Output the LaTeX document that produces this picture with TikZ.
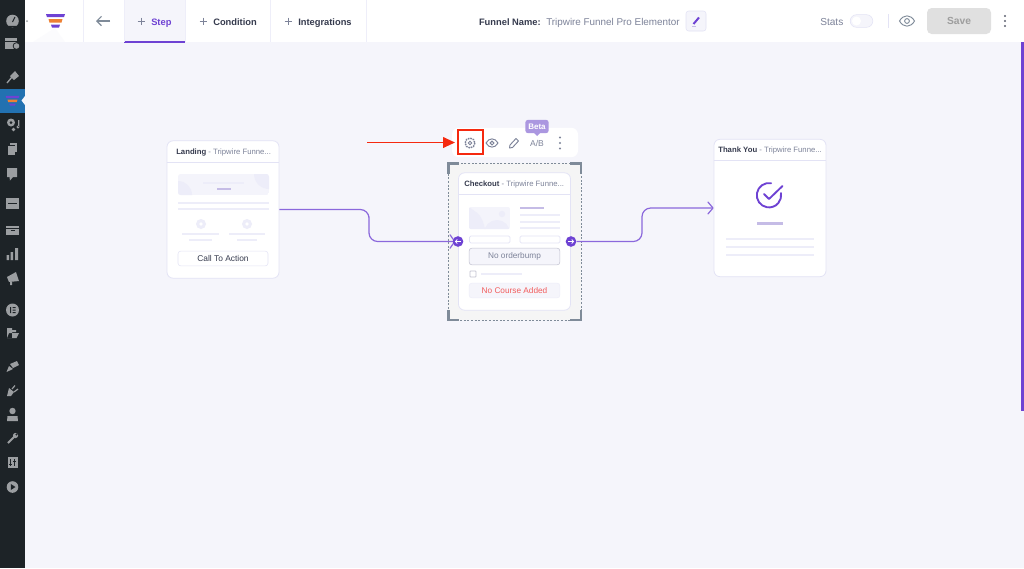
\documentclass[tikz,border=0pt]{standalone}
\usepackage{fontspec}
\setmainfont{Liberation Sans}
\usetikzlibrary{arrows.meta}
\definecolor{canvasbg}{HTML}{F5F5FB}
\definecolor{sidebg}{HTML}{1D2327}
\definecolor{sideicon}{HTML}{9B9EA1}
\definecolor{wpblue}{HTML}{2271B1}
\definecolor{funnelpurple}{HTML}{6E42D3}
\definecolor{funnelorange}{HTML}{EE8134}
\definecolor{softpurple}{HTML}{C5BCE6}
\definecolor{edgeline}{HTML}{E3E3F5}
\definecolor{paleline}{HTML}{EDEDF9}
\definecolor{inkdark}{HTML}{363B4E}
\definecolor{inkgrey}{HTML}{7D8399}
\definecolor{handlegrey}{HTML}{7F8B99}
\definecolor{markred}{HTML}{F5290F}
\definecolor{softred}{HTML}{F25C5C}
\tikzset{
  card/.style={rectangle, rounded corners=4.5pt, draw=edgeline, fill=white, line width=.6pt, minimum width=84pt, minimum height=103pt, inner sep=0pt},
  cardtitle/.style={anchor=base west, inner sep=0pt, font=\fontsize{5.8}{8}\selectfont, text=inkgrey},
  tabtext/.style={anchor=base west, inner sep=0pt, font=\bfseries\fontsize{7}{9}\selectfont, text=inkdark},
  barbutton/.style={rectangle, rounded corners=2pt, draw=edgeline, inner sep=0pt, minimum height=11pt},
  port/.style={circle, fill=funnelpurple, minimum size=8pt, inner sep=0pt},
  wire/.style={draw=funnelpurple!80, line width=.9pt, rounded corners=6.5pt},
  paleln/.style={paleline, line width=1.5pt},
  sideic/.style={fill=sideicon, draw=none},
  funnelmark/.pic={
    \fill[funnelpurple] (-9.5,-7) -- (9.5,-7) -- (8.5,-4) -- (-8.5,-4) -- cycle;
    \fill[funnelorange] (-7,-2) -- (7,-2) -- (6,1.5) -- (-6,1.5) -- cycle;
    \fill[funnelpurple] (-4.5,3.5) -- (4.5,3.5) -- (3.5,6.5) -- (-3.5,6.5) -- cycle;
  },
  eyemark/.pic={
    \draw[line width=.7pt, pic actions] (-6,0) .. controls (-3,-5.5) and (3,-5.5) .. (6,0) .. controls (3,5.5) and (-3,5.5) .. (-6,0) -- cycle;
    \draw[line width=.7pt, pic actions] (0,0) circle[radius=1.9];
  }
}
\begin{document}
\begin{tikzpicture}[x=.75pt, y=-.75pt]
        \useasboundingbox (0,0) rectangle (1024,568);
        \fill[canvasbg] (0,0) rectangle (1024,568);

        % top bar
        \fill[white] (25,0) rectangle (1024,42);
        \fill[canvasbg!40!white] (55,28) -- (33,42) -- (65,42) -- cycle;
        \fill[canvasbg] (124,0) rectangle (185,42);
        \fill[funnelpurple] (124,40.5) rectangle (185,42.5);
        \foreach \sepx in {83,124,185,270,366}
            \draw[edgeline!60, line width=.5pt] (\sepx,0) -- (\sepx,42);
        \pic at (55.5,21) {funnelmark};
        \fill[sideicon] (27,21) circle[radius=1];
        \draw[-{Straight Barb[length=3.5pt,width=7pt]}, handlegrey, line width=.8pt] (110,21) -- (96,21);

        \node[tabtext, text=funnelpurple] (steptab) at (151,25) {Step};
        \node[tabtext] (conditiontab) at (213,25) {Condition};
        \node[tabtext] (integrationstab) at (298,25) {Integrations};
        \foreach \plusx in {141,203,288}
            \draw[inkgrey, line width=.6pt] (\plusx-3.5,21) -- (\plusx+3.5,21) (\plusx,17.5) -- (\plusx,24.5);

        \node[tabtext, anchor=base east] (funnellabel) at (541,25) {Funnel Name:};
        \node[tabtext, font=\fontsize{7.4}{9}\selectfont, text=inkgrey] (funnelname) at (546,25) {Tripwire Funnel Pro Elementor};
        \node[barbutton, fill=canvasbg, minimum width=15pt, minimum height=15pt] (editbtn) at (696,21) {};
        \draw[funnelpurple, line width=1.5pt] (693.5,24) -- (699,17.5);
        \draw[softpurple, line width=.7pt] (692,26.5) -- (696,26.5);

        \node[tabtext, font=\fontsize{7.6}{9}\selectfont, text=inkgrey] (statslabel) at (820,25) {Stats};
        \node[rectangle, rounded corners=4.8pt, fill=canvasbg, draw=edgeline, minimum width=17pt, minimum height=9.5pt, inner sep=0pt] (statstoggle) at (861.5,21) {};
        \fill[white] (856.5,21) circle[radius=4.5];
        \draw[edgeline, line width=.5pt] (888,14) -- (888,28);
        \pic[draw=handlegrey, scale=1.25] at (907,21) {eyemark};
        \node[rectangle, rounded corners=3.5pt, fill=black!12, minimum width=48pt, minimum height=19.5pt, inner sep=0pt, font=\bfseries\fontsize{7.7}{9}\selectfont, text=black!38] (savebtn) at (959,21) {Save};
        \foreach \doty in {16,21,26}
            \fill[inkdark!80] (1005,\doty) circle[radius=1.1];

        \fill[funnelpurple] (1021,42) rectangle (1024,411);

        % side menu
        \fill[sidebg] (0,0) rectangle (25,568);
        \fill[wpblue] (0,89) rectangle (25,113);
        \fill[canvasbg] (25,96) -- (21.5,100.5) -- (25,105) -- cycle;
        \pic[scale=.72] at (12.5,101) {funnelmark};
        % gauge
        \fill[sideic] (12.5,21) circle[radius=6.3];
        \draw[sidebg, line width=.8pt] (12.5,22) -- (15,17) (8,26.5) -- (17,26.5);
        % calendar
        \fill[sideic] (5,37.5) rectangle (17,48.5);
        \fill[sidebg] (5,41) rectangle (17,42);
        \fill[sidebg] (16.5,46) circle[radius=3.8];
        \fill[sideic] (16.5,46) circle[radius=2.8];
        % pin
        \fill[sideic] (10,76) -- (15,71) -- (19,76) -- (14,80) -- cycle;
        \draw[sideicon, line width=1pt] (7,83) -- (12,77);
        % parts
        \fill[sideic] (11,122.5) circle[radius=4];
        \fill[sidebg] (11,122.5) circle[radius=1.5];
        \fill[sideic] (13.5,129.5) circle[radius=1.8] (18,127) circle[radius=1.6] (18.2,120) rectangle (19.4,127);
        % pages
        \fill[sideic] (10,143) rectangle (17,152);
        \fill[sidebg] (7.5,145) rectangle (15,155.5);
        \fill[sideic] (8,146) rectangle (14.5,155);
        % comment
        \fill[sideic] (7,168) rectangle (17,177) (9.5,177) -- (13,177) -- (10,180.5) -- cycle;
        % woo box
        \fill[sideic] (6,197.5) rectangle (19,208.5);
        \draw[sidebg, line width=.4pt] (8,203) -- (17,203);
        % archive
        \fill[sideic] (6,226) rectangle (19,234.5);
        \draw[sidebg, line width=.5pt] (6,228.5) -- (19,228.5) (10.5,230.5) -- (14.5,230.5);
        % bars
        \fill[sideic] (6.5,255) rectangle (9,260) (10.5,252) rectangle (13,260) (15,248) rectangle (18,260);
        % megaphone
        \fill[sideic] (7,277) -- (16,272) -- (19,281) -- (9,282) -- cycle (10,282) rectangle (12,285);
        % elementor
        \fill[sideic] (12.5,310) circle[radius=6.5];
        \fill[sidebg] (10,307) rectangle (11,313) (12.5,307) rectangle (15.5,308) (12.5,309.5) rectangle (15.5,310.5) (12.5,312) rectangle (15.5,313);
        % folder
        \fill[sideic] (7,328) rectangle (12,338) (12,330) rectangle (16,332) (9,333) -- (19,333) -- (16.5,338) -- (7,338) -- cycle;
        % brush
        \fill[sideic] (6.5,372) -- (9,366) -- (13,369) -- cycle (10,364) -- (17,361) -- (19,365) -- (13,368) -- cycle;
        % plug
        \fill[sideic] (9,388) -- (14,392) -- (11,396) -- (7,396) -- cycle;
        \draw[sideicon, line width=.9pt] (12,389) -- (15,385.5) (14,392) -- (18,389);
        % user
        \fill[sideic] (12.5,411) circle[radius=3.2];
        \fill[sideic] (7,421) -- (7.5,416) -- (17.5,416) -- (18,421) -- cycle;
        % wrench
        \draw[sideicon, line width=1.5pt] (8,443) -- (15,436);
        \fill[sideic] (15.5,435.5) circle[radius=2.6];
        \fill[sidebg] (16.5,434.5) circle[radius=1.2];
        % sliders
        \fill[sideic] (7.5,457) rectangle (18,468);
        \draw[sidebg, line width=.5pt] (10.5,459) -- (10.5,466) (14.5,459) -- (14.5,466) (9,464) -- (12,464) (13,461) -- (16,461);
        % play
        \fill[sideic] (12.5,487) circle[radius=5.8];
        \fill[sidebg] (10.8,484) -- (10.8,490) -- (15.5,487) -- cycle;

        % selection frame
        \fill[black!4] (448,163) rectangle (581,320);
        \draw[handlegrey, dash pattern=on 1.5pt off 1.2pt, line width=.4pt] (448,163) rectangle (581,320);
        \draw[handlegrey, line width=1.7pt]
            (448.5,174) -- (448.5,163.5) -- (459,163.5)
            (570,163.5) -- (581,163.5) -- (581,174)
            (448.5,310) -- (448.5,320) -- (459,320)
            (570,320) -- (581,320) -- (581,310);

        % cards
        \node[card] (landing) at (223,209.5) {};
        \node[card] (checkout) at (514.5,241.5) {};
        \node[card] (thanks) at (770,208) {};
        \draw[edgeline, line width=.5pt] (landing.west |- 0,162) -- (landing.east |- 0,162);
        \draw[edgeline, line width=.5pt] (checkout.west |- 0,194) -- (checkout.east |- 0,194);
        \draw[edgeline, line width=.5pt] (thanks.west |- 0,160) -- (thanks.east |- 0,160);

        \node[cardtitle] (landingtitle) at (176,154.5) {\textbf{\textcolor{inkdark}{Landing}} - Tripwire Funne...};
        \node[cardtitle] (checkouttitle) at (464,186.5) {\textbf{\textcolor{inkdark}{Checkout}} - Tripwire Funne...};
        \node[cardtitle] (thankstitle) at (718,152.5) {\textbf{\textcolor{inkdark}{Thank You}} - Tripwire Funne...};

        % landing preview
        \begin{scope}
            \clip[rounded corners=2pt] (178,174) rectangle (269,195);
            \fill[paleline!60] (178,174) rectangle (269,195);
            \fill[paleline] (178,195) circle[radius=14] (269,174) circle[radius=15];
        \end{scope}
        \draw[paleln] (203,183) -- (244,183);
        \draw[softpurple, line width=1.6pt] (217,189) -- (231,189);
        \draw[paleln] (178,203) -- (269,203) (178,209) -- (269,209);
        \foreach \dotx in {201,247}{
            \fill[paleline] (\dotx,224) circle[radius=5];
            \fill[white] (\dotx,224) circle[radius=1.8];
        }
        \draw[paleln] (182,234) -- (219,234) (229,234) -- (265,234) (189,239.5) -- (212,239.5) (237,239.5) -- (257,239.5);
        \node[barbutton, fill=white, minimum width=67.5pt, font=\fontsize{6.3}{8}\selectfont, text=inkdark] (actionbtn) at (223,258.5) {Call To Action};

        % checkout preview
        \begin{scope}
            \clip[rounded corners=1.5pt] (469,207) rectangle (510,229);
            \fill[paleline!60] (469,207) rectangle (510,229);
            \fill[paleline] (469,207) -- (476,212) .. controls (482,216) and (484,224) .. (485,229) -- (469,229) -- cycle;
            \fill[paleline] (497,233) circle[radius=13];
            \fill[paleline] (502,214) circle[radius=3.2];
        \end{scope}
        \draw[softpurple, line width=1.3pt] (520,208) -- (544,208);
        \draw[paleln] (520,215) -- (560,215) (520,221.5) -- (560,221.5) (520,227.5) -- (560,227.5);
        \draw[edgeline, rounded corners=1pt, line width=.6pt] (469.5,236) rectangle (510,243) (520,236) rectangle (560,243);
        \node[barbutton, draw=edgeline!85!black, fill=canvasbg, minimum width=68pt, minimum height=12.5pt, font=\fontsize{6.2}{8}\selectfont, text=inkgrey] (orderbtn) at (514.5,256.5) {No orderbump};
        \draw[edgeline!85!black, line width=.5pt, rounded corners=.5pt] (470,271) rectangle (476,277);
        \draw[paleln] (481,274) -- (522,274);
        \node[barbutton, draw=paleline, fill=canvasbg, minimum width=68pt, minimum height=11pt, font=\fontsize{6.2}{8}\selectfont, text=softred] (coursebtn) at (514.5,290.5) {No Course Added};

        % thank you preview
        \draw[funnelpurple, line width=1.4pt, line cap=round] (771.1,183.2) arc[start angle=-80, end angle=-370, radius=12.2];
        \draw[funnelpurple, line width=1.4pt, line cap=round, line join=round] (764,194) -- (769,199) -- (782.5,186);
        \draw[softpurple, line width=1.8pt] (757,223.5) -- (783,223.5);
        \draw[paleln] (726,239) -- (814,239) (726,247) -- (814,247) (726,255) -- (814,255);

        % wires and ports
        \coordinate (elbowA) at (369,225);
        \coordinate (elbowB) at (642,225);
        \coordinate (inportpos) at (458,241.5);
        \draw[wire, shorten >=2pt, -{Straight Barb[length=3.5pt,width=10pt,round]}] (landing.east) -| (elbowA) |- (inportpos);
        \node[port] (inport) at (inportpos) {};
        \node[port] (outport) at (571,241.5) {};
        \draw[wire, -{Straight Barb[length=3.8pt,width=9pt,round]}] (outport.east) -| (elbowB) |- (thanks.west);
        \draw[white, line width=.6pt, -{Straight Barb[length=1.3pt,width=3pt]}] (461,241.5) -- (455,241.5);
        \draw[white, line width=.6pt, -{Straight Barb[length=1.3pt,width=3pt]}] (568,241.5) -- (574,241.5);

        % tool strip
        \node[rectangle, rounded corners=5pt, fill=white, minimum width=94.5pt, minimum height=22pt, inner sep=0pt] (toolstrip) at (515,142.5) {};
        \node[circle, draw=inkgrey, line width=.7pt, inner sep=0pt, minimum size=2.7pt] (gearhub) at (470,143) {};
        \draw[inkgrey, line width=1.1pt, dash pattern=on 1.2pt off .7pt] (gearhub) circle[radius=4.9];
        \pic[draw=inkgrey] at (492,143) {eyemark};
        \draw[inkgrey, line width=.7pt, line join=round] (509.5,148) -- (510,145) -- (516,138.5) -- (518.5,141) -- (512.5,147.5) -- cycle;
        \node[inner sep=0pt, font=\fontsize{6.4}{9}\selectfont, text=inkgrey] (abicon) at (537,143) {A/B};
        \foreach \doty in {137.5,143,148.5}
            \fill[inkgrey] (560,\doty) circle[radius=1.2];

        \node[rectangle, rounded corners=2pt, fill=softpurple!70!funnelpurple, minimum width=17.5pt, minimum height=10pt, inner sep=0pt, font=\bfseries\fontsize{6}{7}\selectfont, text=white] (betatag) at (537,126.5) {Beta};
        \fill[softpurple!70!funnelpurple] (534,133) -- (540,133) -- (537,136) -- cycle;

        % red marker
        \node[rectangle, draw=markred, line width=1.5pt, minimum width=18.75pt, minimum height=18pt, inner sep=0pt] (gearbox) at (470.5,142) {};
        \coordinate (arrowstart) at (367,142.5);
        \draw[-{Triangle[length=9pt,width=8pt]}, markred, line width=1.4pt, shorten >=1.5pt] (arrowstart) -- (gearbox.west |- arrowstart);
\end{tikzpicture}
\end{document}
